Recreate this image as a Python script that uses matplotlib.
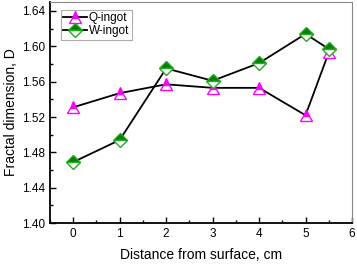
import matplotlib
matplotlib.use("Agg")
import matplotlib.pyplot as plt
from matplotlib.ticker import MultipleLocator

plt.rcParams["font.family"] = ["Liberation Sans", "DejaVu Sans"]

DISTANCE = [0, 1, 2, 3, 4, 5, 5.5]
Q_INGOT = [1.531, 1.547, 1.557, 1.553, 1.553, 1.522, 1.593]
W_INGOT = [1.469, 1.494, 1.575, 1.561, 1.581, 1.614, 1.597]

fig = plt.figure(figsize=(3.57, 2.64), dpi=100)
ax = fig.add_axes([0.14, 0.155, 0.846, 0.837])

ax.plot(DISTANCE, Q_INGOT, color="black", lw=1.3, marker="^", markersize=8,
        fillstyle="top", markerfacecolor="#ff00ff", markerfacecoloralt="white",
        markeredgecolor="#ff00ff", markeredgewidth=1.0, label="Q-ingot")
ax.plot(DISTANCE, W_INGOT, color="black", lw=1.3, marker="D", markersize=7,
        fillstyle="top", markerfacecolor="#008000", markerfacecoloralt="white",
        markeredgecolor="#22aa22", markeredgewidth=1.0, label="W-ingot")

ax.set_xlim(-0.5, 6)
ax.set_ylim(1.40, 1.65)
ax.set_yticks([1.40, 1.44, 1.48, 1.52, 1.56, 1.60, 1.64])
ax.set_xticks([0, 1, 2, 3, 4, 5, 6])
ax.xaxis.set_minor_locator(MultipleLocator(0.5))
ax.yaxis.set_minor_locator(MultipleLocator(0.02))
ax.tick_params(which="both", direction="in", top=False, right=False, labelsize=8.5)
ax.tick_params(which="major", length=4, width=1)
ax.tick_params(which="minor", length=2, width=1)
for s in ["left", "bottom"]:
    ax.spines[s].set_linewidth(1.3)
for s in ["top", "right"]:
    ax.spines[s].set_color("#888888")

ax.set_xlabel("Distance from surface, cm", fontsize=10, labelpad=6)
ax.set_ylabel("Fractal dimension, D", fontsize=10, labelpad=3)
leg = ax.legend(loc="upper left", bbox_to_anchor=(0.035, 0.965), fontsize=8.5,
                handlelength=2.0, borderpad=0.2, labelspacing=0.1,
                handletextpad=0.2, borderaxespad=0, fancybox=False)
leg.get_frame().set_edgecolor("#999999")
leg.get_frame().set_linewidth(0.8)

fig.savefig("out.png", dpi=100)
